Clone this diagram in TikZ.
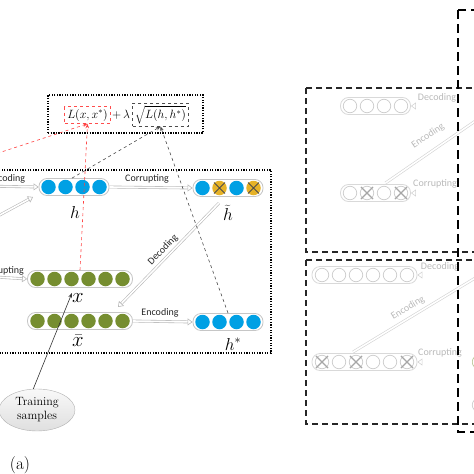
\documentclass[tikz,border=0pt]{standalone}
\usepackage{fontspec}
\newfontfamily\labelfont{Carlito}
\usetikzlibrary{arrows.meta,calc,shapes.geometric,shapes.misc}
\definecolor{unitblue}{RGB}{0,160,228}
\definecolor{unitgreen}{RGB}{118,142,48}
\definecolor{unityellow}{RGB}{230,178,40}
\tikzset{
  bar/.style={draw=gray!45, line width=0.8pt, fill=white, rounded corners=8pt, minimum height=17pt, inner sep=0pt},
  ghostbar/.style={bar, draw=gray!30},
  unit/.style={circle, inner sep=0pt, minimum size=14.5pt},
  ublue/.style={unit, fill=unitblue},
  ugreen/.style={unit, fill=unitgreen},
  ucross/.style={unit, fill=unityellow, label={[cross out, draw=gray!60!black, line width=0.9pt, minimum size=10pt, inner sep=0pt]center:{}}},
  uempty/.style={unit, draw=gray!40, line width=0.7pt, minimum size=13.5pt},
  ughost/.style={uempty, label={[cross out, draw=gray!70, line width=1.1pt, minimum size=11pt, inner sep=0pt]center:{}}},
  pipe/.style={draw=gray!55, double=white, double distance=1.6pt, line width=0.6pt, -{Triangle[open, length=5pt, width=7pt]}},
  ghostpipe/.style={pipe, draw=gray!35},
  tag/.style={font=\labelfont, text=gray!30!black, inner sep=1pt},
  ghosttag/.style={tag, text=gray!55},
  lossarrow/.style={dashed, line width=0.6pt, -{Stealth[length=4.5pt, width=3.5pt]}},
  dotbox/.style={line width=1.3pt, dash pattern=on 1.3pt off 1.3pt},
  stagebox/.style={draw=gray!30!black, line width=1.2pt, dash pattern=on 6pt off 4pt},
}
\begin{document}
\begin{tikzpicture}[x=1pt, y=-1pt]
  \useasboundingbox (0,0) rectangle (474,474);
  \clip (0,0) rectangle (474,474);

  % loss term
  \node[draw, dotbox, minimum width=155pt, minimum height=38pt] (loss) at (125.5,114) {};
  \node[draw=red!70, dashed, line width=0.6pt, inner sep=2.5pt, font=\large] (Lx) at (87.5,115) {$L(x,x^{*})$};
  \node[font=\large] (plus) at (121,115) {$+\,\lambda$};
  \node[draw=gray!60!black, dashed, line width=0.6pt, inner sep=2.5pt, font=\large] (Lh) at (160.5,114.5) {$\sqrt{L(h,h^{*})}$};

  % first stage
  \draw[dotbox] (-10,170) rectangle (271,353);
  \node[bar, minimum width=70pt] (h) at (74,187) {};
  \foreach \s [count=\i] in {ublue,ublue,ublue,ublue}
    \node[\s] (h\i) at ($(h)+(17*\i-42.5,0)$) {};
  \node[bar, minimum width=70pt] (ht) at (228,188) {};
  \foreach \s [count=\i] in {ublue,ucross,ublue,ucross}
    \node[\s] (ht\i) at ($(ht)+(17*\i-42.5,0)$) {};
  \node[bar, minimum width=105pt] (x) at (80,279) {};
  \foreach \s [count=\i] in {ugreen,ugreen,ugreen,ugreen,ugreen,ugreen}
    \node[\s] (x\i) at ($(x)+(17*\i-59.5,0)$) {};
  \node[bar, minimum width=105pt] (xb) at (80,321) {};
  \foreach \s [count=\i] in {ugreen,ugreen,ugreen,ugreen,ugreen,ugreen}
    \node[\s] (xb\i) at ($(xb)+(17*\i-59.5,0)$) {};
  \node[bar, minimum width=70pt] (hs) at (228,322) {};
  \foreach \s [count=\i] in {ublue,ublue,ublue,ublue}
    \node[\s] (hs\i) at ($(hs)+(17*\i-42.5,0)$) {};

  \node[font=\LARGE] (hlab) at (75,212) {$h$};
  \node[font=\LARGE] (htlab) at (228,213) {$\widetilde{h}$};
  \node[font=\huge] (xlab) at (78,298) {$x$};
  \node[font=\huge] (xblab) at (78,341) {$\bar{x}$};
  \node[font=\LARGE] (hslab) at (233,344) {$h^{*}$};

  \coordinate (decin) at (-20,186);
  \coordinate (encin) at (-15,223);
  \coordinate (corin) at (-20,276);
  \draw[pipe] (decin) -- (h.west);
  \node[tag] at (6,179) {Decoding};
  \draw[pipe] (encin) -- ([xshift=-41pt, yshift=-10pt]h.center);
  \draw[pipe] (h.east) -- (ht.west);
  \node[tag] at (147,179) {Corrupting};
  \draw[pipe] ([xshift=-9pt, yshift=-15pt]ht.center) -- node[tag, above=2pt, sloped] {Decoding} ([xshift=38pt, yshift=14pt]xb.center);
  \draw[pipe] (corin) -- (x.west);
  \node[tag] at (2,271) {Corrupting};
  \draw[pipe] (xb.east) -- (hs.west);
  \node[tag] at (160,313) {Encoding};

  % losses
  \coordinate (redin) at (-20,159);
  \draw[lossarrow, red!75] (x.north) -- (Lx.south);
  \draw[lossarrow, red!75] (redin) -- (Lx.south);
  \draw[lossarrow, gray!60!black] ([xshift=-2pt]h.north) -- (Lh.south);
  \draw[lossarrow, gray!60!black] (hs.north) -- (Lh.south);

  % input
  \node[ellipse, draw=gray!60, top color=gray!5, bottom color=gray!25, minimum width=76pt, minimum height=42pt, align=center, font=\large, inner sep=0pt] (ts) at (37,410) {Training\\samples};
  \draw[-{Stealth[length=5pt]}, gray!40!black, line width=0.6pt] (ts.100) -- ([xshift=-8pt, yshift=-5pt]x.south);
  \node[font=\LARGE] (cap) at (20,465) {(a)};

  % stacked stages
  \draw[stagebox] (306,88) rectangle (495,252);
  \draw[stagebox] (306,260) rectangle (495,424);
  \node[ghostbar, minimum width=70pt] (g1) at (375.5,106) {};
  \foreach \s [count=\i] in {uempty,uempty,uempty,uempty}
    \node[\s] (g1\i) at ($(g1)+(17*\i-42.5,0)$) {};
  \node[ghostbar, minimum width=70pt] (g2) at (375.5,193) {};
  \foreach \s [count=\i] in {uempty,ughost,uempty,ughost}
    \node[\s] (g2\i) at ($(g2)+(17*\i-42.5,0)$) {};
  \node[ghostbar, minimum width=105pt] (g3) at (364.5,275) {};
  \foreach \s [count=\i] in {uempty,uempty,uempty,uempty,uempty,uempty}
    \node[\s] (g3\i) at ($(g3)+(17*\i-59.5,0)$) {};
  \node[ghostbar, minimum width=105pt] (g4) at (364.5,362) {};
  \foreach \s [count=\i] in {ughost,uempty,ughost,uempty,uempty,ughost}
    \node[\s] (g4\i) at ($(g4)+(17*\i-59.5,0)$) {};
  \node[uempty, draw=unitgreen!50] (n1) at (479,362) {};
  \node[uempty] (n2) at (479,405) {};

  \coordinate (gdec1) at (495,106);
  \coordinate (gcor1) at (495,193);
  \coordinate (genc1) at (500,104);
  \coordinate (gdec2) at (495,275);
  \coordinate (genc2) at (500,263);
  \draw[ghostpipe] (gdec1) -- (g1.east);
  \node[ghosttag] at (437,98) {Decoding};
  \draw[ghostpipe] (gcor1) -- (g2.east);
  \node[ghosttag] at (435,184) {Corrupting};
  \draw[ghostpipe] ([xshift=10pt, yshift=10pt]g2.center) -- (genc1);
  \node[ghosttag, rotate=34] at (428,136) {Encoding};
  \draw[ghostpipe] (gdec2) -- (g3.east);
  \node[ghosttag] at (440,267) {Decoding};
  \draw[ghostpipe] (n1.west) -- (g4.east);
  \node[ghosttag] at (440,353) {Corrupting};
  \draw[ghostpipe] ([xshift=-11.5pt, yshift=10pt]g4.center) -- (genc2);
  \node[ghosttag, rotate=31] at (408,308) {Encoding};

  \draw[line width=1.8pt, dash pattern=on 9pt off 5pt] (458,10) rectangle (495,432);
\end{tikzpicture}
\end{document}
